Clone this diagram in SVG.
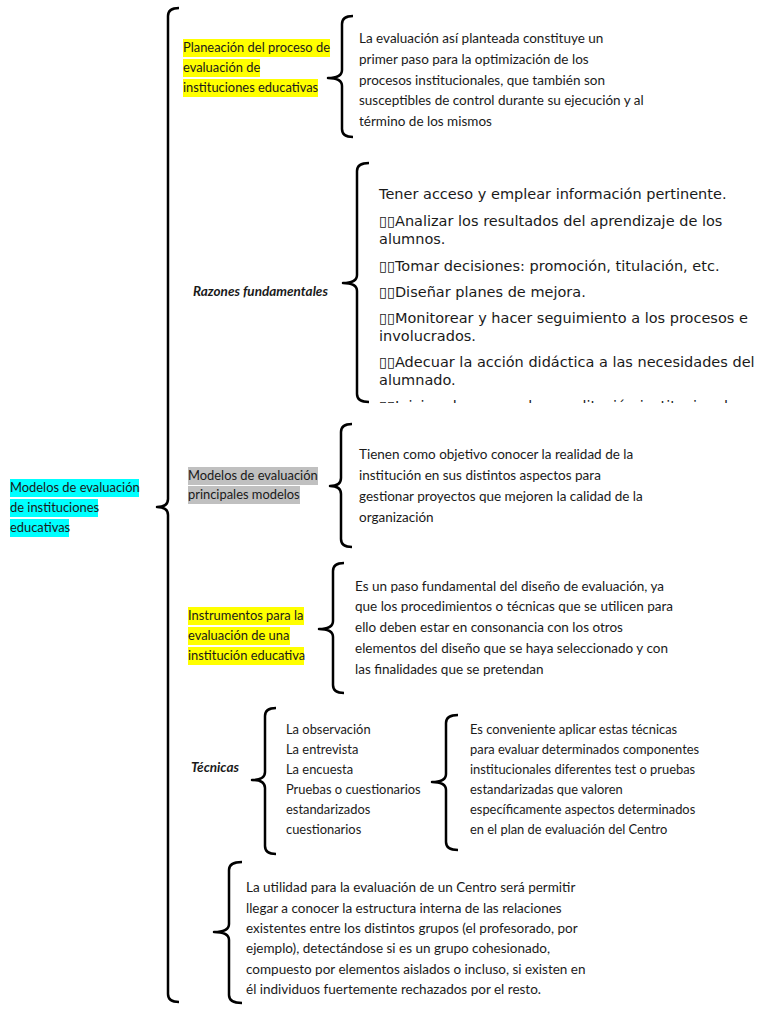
<svg xmlns="http://www.w3.org/2000/svg" width="768" height="1024" viewBox="0 0 768 1024">
<style>
.t{font-family:Lato,"Liberation Sans",sans-serif;font-size:13.5px;fill:#1a1a1a}
.s{font-size:12.9px}
.b{font-weight:bold;font-style:italic}
.d{font-family:"DejaVu Sans",sans-serif;font-size:14.5px;fill:#1a1a1a}
.br{fill:none;stroke:#000;stroke-width:2.5;stroke-linejoin:round}
.y{fill:#ffff00}.c{fill:#00ffff}.g{fill:#c0c0c0}
</style>
<defs><clipPath id="clip"><rect x="370" y="150" width="398" height="253"/></clipPath></defs>
<rect width="768" height="1024" fill="#fff"/>
<g id="connectors">
<path class="br" d="M179,8 Q168,8 168,16 L168,499 Q168,507 157,507 Q168,507 168,515 L168,994 Q168,1002 179,1002"/>
<path class="br" d="M353,16 Q342,16 342,24 L342,70 Q342,78 328,78 Q342,78 342,86 L342,129 Q342,137 353,137"/>
<path class="br" d="M369,163 Q357,163 357,171 L357,275 Q357,283 343,283 Q357,283 357,291 L357,394 Q357,402 369,402"/>
<path class="br" d="M352,424 Q341,424 341,432 L341,478 Q341,486 330,486 Q341,486 341,494 L341,539 Q341,547 352,547"/>
<path class="br" d="M344,563 Q333,563 333,571 L333,621 Q333,629 319,629 Q333,629 333,637 L333,685 Q333,693 344,693"/>
<path class="br" d="M276,708 Q265,708 265,716 L265,772 Q265,780 252,780 Q265,780 265,788 L265,846 Q265,854 276,854"/>
<path class="br" d="M458,715 Q446,715 446,723 L446,774 Q446,782 432,782 Q446,782 446,790 L446,842 Q446,850 458,850"/>
<path class="br" d="M242,862 Q229,862 229,870 L229,924 Q229,932 214,932 Q229,932 229,940 L229,995 Q229,1003 242,1003"/>
</g>
<g id="root">
<rect class="c" x="10" y="479" width="129" height="18"/>
<rect class="c" x="10" y="499" width="88" height="18"/>
<rect class="c" x="10" y="519" width="59" height="18"/>
<text class="t s" x="10" y="492">Modelos de evaluación</text>
<text class="t s" x="10" y="512">de instituciones</text>
<text class="t s" x="10" y="532">educativas</text>
</g>
<g id="planeacion">
<rect class="y" x="183" y="39" width="147" height="18"/>
<rect class="y" x="183" y="59" width="77" height="18"/>
<rect class="y" x="183" y="79" width="135" height="18"/>
<text class="t s" x="183" y="52">Planeación del proceso de</text>
<text class="t s" x="183" y="72">evaluación de</text>
<text class="t s" x="183" y="92">instituciones educativas</text>
</g>
<g id="planeacion-desc">
<text class="t" x="359" y="43">La evaluación así planteada constituye un</text>
<text class="t" x="359" y="64">primer paso para la optimización de los</text>
<text class="t" x="359" y="85">procesos institucionales, que también son</text>
<text class="t" x="359" y="105">susceptibles de control durante su ejecución y al</text>
<text class="t" x="359" y="126">término de los mismos</text>
</g>
<g id="razones">
<text class="t b" x="193" y="296">Razones fundamentales</text>
</g>
<g id="razones-list" clip-path="url(#clip)">
<text class="d" x="379" y="199">Tener acceso y emplear información pertinente.</text>
<text class="d" x="379" y="226">▯▯Analizar los resultados del aprendizaje de los</text>
<text class="d" x="379" y="244">alumnos.</text>
<text class="d" x="379" y="271">▯▯Tomar decisiones: promoción, titulación, etc.</text>
<text class="d" x="379" y="297">▯▯Diseñar planes de mejora.</text>
<text class="d" x="379" y="323">▯▯Monitorear y hacer seguimiento a los procesos e</text>
<text class="d" x="379" y="341">involucrados.</text>
<text class="d" x="379" y="367">▯▯Adecuar la acción didáctica a las necesidades del</text>
<text class="d" x="379" y="385">alumnado.</text>
<text class="d" x="379" y="411">▯▯Iniciar el proceso de acreditación institucional</text>
</g>
<g id="modelos">
<rect class="g" x="188" y="467" width="130" height="18"/>
<rect class="g" x="188" y="486" width="112" height="18"/>
<text class="t s" x="188" y="480">Modelos de evaluación</text>
<text class="t s" x="188" y="499">principales modelos</text>
</g>
<g id="modelos-desc">
<text class="t" x="359" y="459">Tienen como objetivo conocer la realidad de la</text>
<text class="t" x="359" y="480">institución en sus distintos aspectos para</text>
<text class="t" x="359" y="501">gestionar proyectos que mejoren la calidad de la</text>
<text class="t" x="359" y="522">organización</text>
</g>
<g id="instrumentos">
<rect class="y" x="188" y="607" width="116" height="18"/>
<rect class="y" x="188" y="627" width="102" height="18"/>
<rect class="y" x="188" y="647" width="116" height="18"/>
<text class="t s" x="188" y="620">Instrumentos para la</text>
<text class="t s" x="188" y="640">evaluación de una</text>
<text class="t s" x="188" y="660">institución educativa</text>
</g>
<g id="instrumentos-desc">
<text class="t" x="355" y="591">Es un paso fundamental del diseño de evaluación, ya</text>
<text class="t" x="355" y="611">que los procedimientos o técnicas que se utilicen para</text>
<text class="t" x="355" y="632">ello deben estar en consonancia con los otros</text>
<text class="t" x="355" y="653">elementos del diseño que se haya seleccionado y con</text>
<text class="t" x="355" y="674">las finalidades que se pretendan</text>
</g>
<g id="tecnicas">
<text class="t b" x="191" y="772">Técnicas</text>
</g>
<g id="tecnicas-list">
<text class="t s" x="286" y="734">La observación</text>
<text class="t s" x="286" y="754">La entrevista</text>
<text class="t s" x="286" y="774">La encuesta</text>
<text class="t s" x="286" y="794">Pruebas o cuestionarios</text>
<text class="t s" x="286" y="814">estandarizados</text>
<text class="t s" x="286" y="834">cuestionarios</text>
</g>
<g id="tecnicas-desc">
<text class="t s" x="470" y="734">Es conveniente aplicar estas técnicas</text>
<text class="t s" x="470" y="754">para evaluar determinados componentes</text>
<text class="t s" x="470" y="774">institucionales diferentes test o pruebas</text>
<text class="t s" x="470" y="794">estandarizadas que valoren</text>
<text class="t s" x="470" y="814">específicamente aspectos determinados</text>
<text class="t s" x="470" y="834">en el plan de evaluación del Centro</text>
</g>
<g id="utilidad">
<text class="t" x="246" y="892">La utilidad para la evaluación de un Centro será permitir</text>
<text class="t" x="246" y="913">llegar a conocer la estructura interna de las relaciones</text>
<text class="t" x="246" y="933">existentes entre los distintos grupos (el profesorado, por</text>
<text class="t" x="246" y="953">ejemplo), detectándose si es un grupo cohesionado,</text>
<text class="t" x="246" y="974">compuesto por elementos aislados o incluso, si existen en</text>
<text class="t" x="246" y="994">él individuos fuertemente rechazados por el resto.</text>
</g>
</svg>
